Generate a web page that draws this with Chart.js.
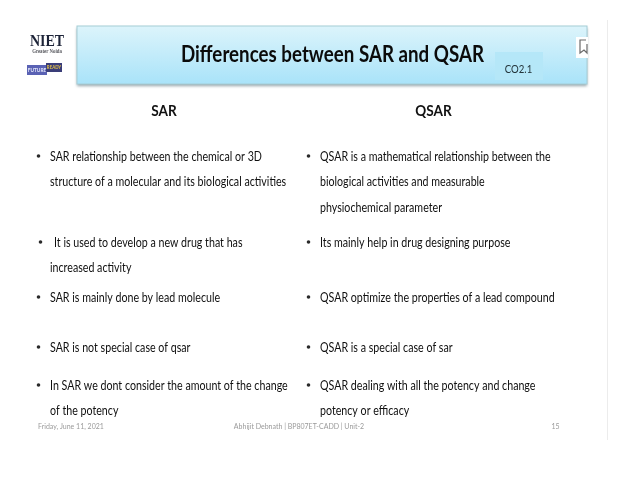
<!DOCTYPE html>
<html>
<head>
<meta charset="utf-8">
<title>Differences between SAR and QSAR</title>
<script src="https://cdn.jsdelivr.net/npm/chart.js@4"></script>
<style>
  html, body { margin: 0; padding: 0; background: #fff; }
  canvas { display: block; }
</style>
</head>
<body>
<canvas id="slide" width="638" height="478"></canvas>
<script>
const slideTitle = "Differences between SAR and QSAR";
const courseOutcome = "CO2.1";
const columnHeads = ["SAR", "QSAR"];
const footerTexts = ["Friday, June 11, 2021", "Abhijit Debnath | BP807ET-CADD | Unit-2", "15"];

const sarPoints = [
  ["SAR relationship between the chemical or 3D", "structure of a molecular and its biological activities"],
  ["It is used to develop a new drug that has", "increased activity"],
  ["SAR is mainly done by lead molecule"],
  ["SAR is not special case of qsar"],
  ["In SAR we dont consider the amount of the change", "of the potency"],
];
const qsarPoints = [
  ["QSAR is a mathematical relationship between the", "biological activities and measurable", "physiochemical parameter"],
  ["Its mainly help in drug designing purpose"],
  ["QSAR optimize the properties of a lead compound"],
  ["QSAR is a special case of sar"],
  ["QSAR dealing with all the potency and change", "potency or efficacy"],
];

// row positions of the slide, in page pixels
const rowTops = [156, 242, 297, 347, 385];
const lineGap = 25.5;
const bodyFont = "12.4px Lato";

const ctx = document.getElementById("slide").getContext("2d");

// Lato is wider than the slide's font, so text is squeezed to fit
const drawText = (c, text, x, y, font, color, align, squeeze = 0.875) => {
  c.save();
  c.translate(x, y);
  c.scale(squeeze, 1);
  c.font = font;
  c.fillStyle = color;
  c.textAlign = align || "left";
  c.textBaseline = "middle";
  c.fillText(text, 0, 0);
  c.restore();
};

const drawColumn = (c, points, bulletX, textX) => {
  points.forEach((lines, i) => {
    const indent = lines[0].startsWith("It is") ? 4 : 0;
    c.fillStyle = "#2a2a2a";
    c.beginPath();
    c.arc(bulletX + indent / 2, rowTops[i], 1.8, 0, Math.PI * 2);
    c.fill();
    lines.forEach((line, j) => {
      const y = rowTops[i] + j * lineGap + 0.5;
      drawText(c, line, textX + (j === 0 ? indent : 0), y, bodyFont, "#101010", "left", 0.86);
    });
  });
};

const slidePlugin = {
  id: "slide",
  afterDraw(chart) {
    const c = chart.ctx;
    c.save();
    c.filter = "blur(0.35px)";

    // side rule
    c.fillStyle = "#ececec";
    c.fillRect(607, 20, 1, 420);

    // header band
    c.shadowColor = "rgba(60,90,100,0.55)";
    c.shadowBlur = 3;
    c.shadowOffsetY = 2;
    const band = c.createLinearGradient(0, 26, 0, 84);
    band.addColorStop(0, "#dcf4fb");
    band.addColorStop(1, "#a9e3f9");
    c.fillStyle = band;
    c.fillRect(77, 26, 510, 58);
    c.shadowColor = "transparent";
    c.strokeStyle = "#a5cdd6";
    c.lineWidth = 1;
    c.strokeRect(77, 26, 510, 58);

    c.fillStyle = "#b5e7f8";
    c.fillRect(495, 52, 48, 28);
    drawText(c, courseOutcome, 518.5, 69, "11px Lato", "#23343a", "center");
    drawText(c, slideTitle, 332.5, 55, "bold 22px Lato", "#0b0b0b", "center", 0.852);

    // bookmark glyph
    c.fillStyle = "#ffffff";
    c.fillRect(576, 37, 12, 21);
    c.strokeStyle = "#6a6a6a";
    c.lineWidth = 1.2;
    c.beginPath();
    c.moveTo(586, 40);
    c.lineTo(580, 40);
    c.lineTo(580, 53);
    c.lineTo(584, 50);
    c.lineTo(587, 53);
    c.lineTo(587, 44);
    c.stroke();

    // logo
    drawText(c, "NIET", 47, 42, "bold 16px 'Liberation Serif'", "#1d2438", "center");
    drawText(c, "Greater Noida", 47, 52, "bold 5.5px 'Liberation Serif'", "#55565c", "center");
    c.fillStyle = "#5a62b4";
    c.fillRect(27, 65, 20, 10);
    c.fillStyle = "#3a3d78";
    c.fillRect(46, 63, 16, 9);
    drawText(c, "FUTURE", 37, 70, "bold 5.5px Lato", "#e4e7fa", "center");
    drawText(c, "READY", 54, 67.5, "bold 5px Lato", "#e6c34a", "center");

    drawText(c, columnHeads[0], 164, 111, "bold 16px Lato", "#111", "center", 0.85);
    drawText(c, columnHeads[1], 433.5, 111, "bold 16px Lato", "#111", "center", 0.85);

    drawColumn(c, sarPoints, 38.5, 50);
    drawColumn(c, qsarPoints, 308.5, 320);

    drawText(c, footerTexts[0], 38, 426, "8px Lato", "#9a9a9a");
    drawText(c, footerTexts[1], 299, 426, "8px Lato", "#9a9a9a", "center");
    drawText(c, footerTexts[2], 555.5, 426, "8px Lato", "#9a9a9a", "center");

    c.restore();
  },
};

new Chart(ctx, {
  type: "scatter",
  data: { datasets: [] },
  options: {
    responsive: false,
    animation: false,
    events: [],
    plugins: { legend: { display: false }, tooltip: { enabled: false } },
    scales: { x: { display: false }, y: { display: false } },
  },
  plugins: [slidePlugin],
});
</script>
</body>
</html>
